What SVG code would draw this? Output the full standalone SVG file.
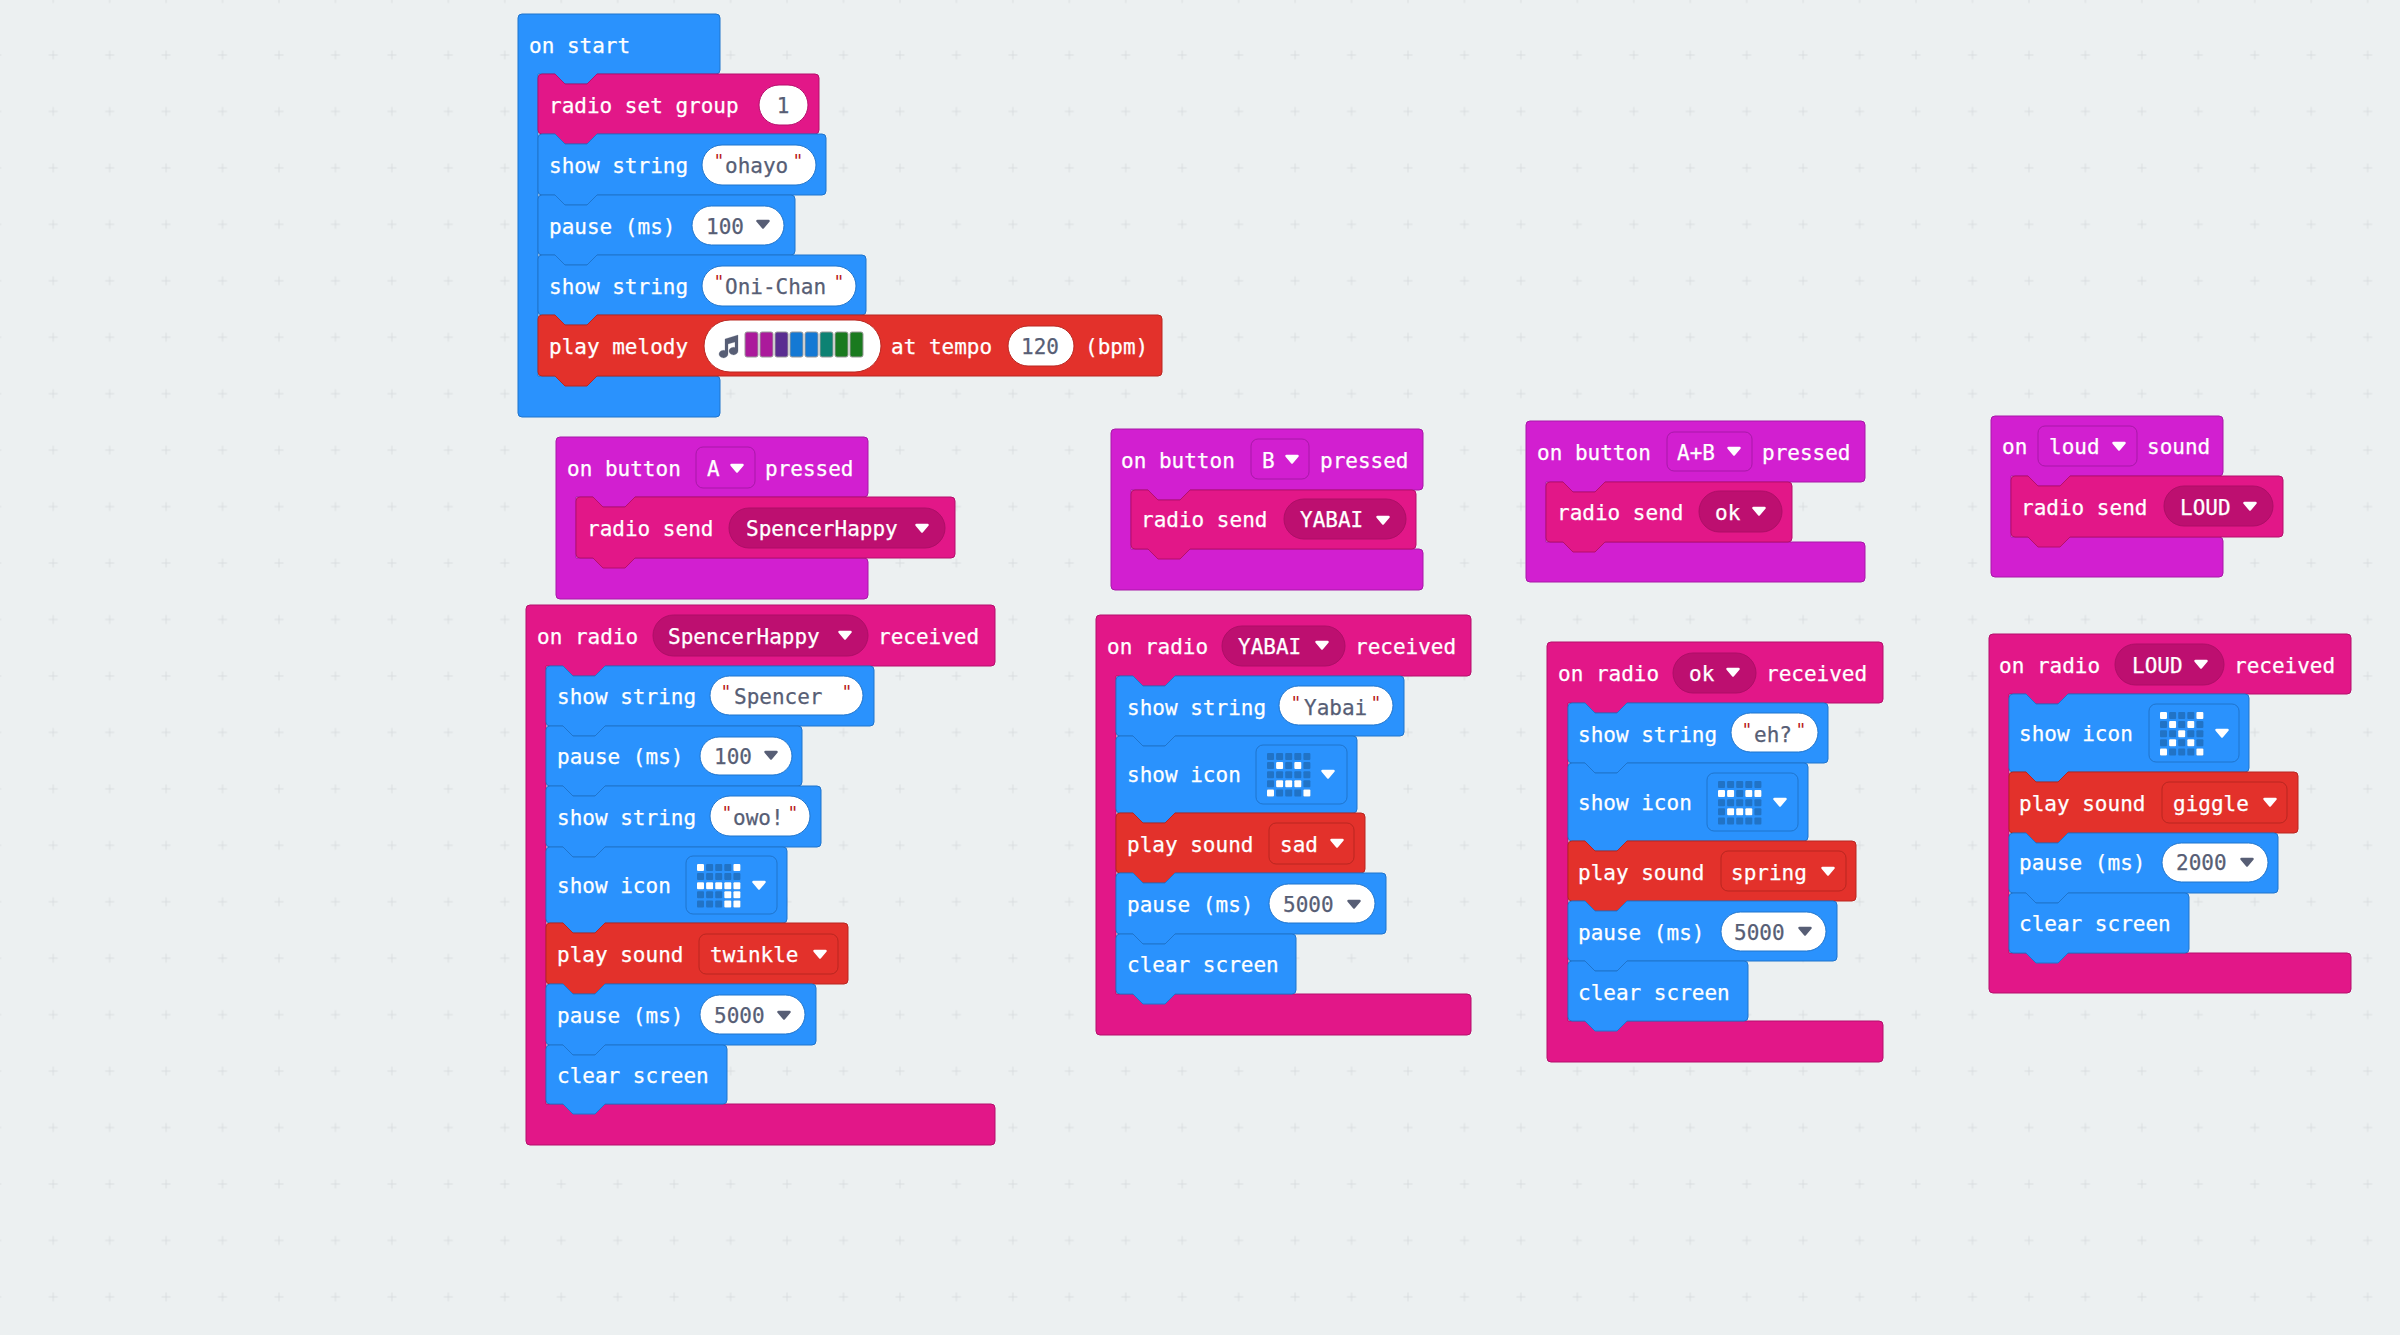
<svg xmlns="http://www.w3.org/2000/svg" xmlns:xlink="http://www.w3.org/1999/xlink" width="2400" height="1335" viewBox="0 0 2400 1335">
<style>
.blue{fill:#2a92fd;stroke:#1f74cc}
.radio{fill:#e21788;stroke:#b50f6c}
.music{fill:#e3312b;stroke:#b92620}
.input{fill:#d21fd0;stroke:#a818a8}
text{font-family:"DejaVu Sans Mono",monospace;font-size:21px}
.t{fill:#fff;stroke:#fff;stroke-width:.25px}
.d{fill:#575e75;stroke:#575e75;stroke-width:.25px}
.q{fill:#b81c1c;font-size:18px;text-anchor:middle}
.c{text-anchor:middle}
.wp{fill:#fff;stroke-width:1}
.pb{stroke:#1f74cc}.pr{stroke:#b50f6c}.pm{stroke:#b92620}
.rp{fill:#bd0f70;stroke:#ad0e67}
.of{fill:none}
.ofi{stroke:#a818a8}.ofm{stroke:#b92620}.ofb{stroke:#1f74cc}
.aw{fill:#fff;stroke:#fff}
.ad{fill:#575e75;stroke:#575e75}
.on{fill:#fff}
.off{fill:#2173c6}
.bar{stroke:#9a9a9a;stroke-width:1}
</style>
<defs>
<pattern id="dots" x="53.2" y="55" width="56.45" height="56.45" patternUnits="userSpaceOnUse" patternContentUnits="userSpaceOnUse">
<path d="M-4.5 0H4.5M0-4.5V4.5M51.95 0H60.95M56.45-4.5V4.5M-4.5 56.45H4.5M0 51.95V60.95M51.95 56.45H60.95M56.45 51.95V60.95" stroke="#d9dde0" stroke-width="1" fill="none"/>
</pattern>
<path id="arrow" d="M-5.5-3H5.5L0 3.5Z" stroke-width="2.5" stroke-linejoin="round"/>
<rect id="cell" width="7" height="7" rx="1"/>
<g id="cells" class="off">
<use href="#cell" x="0" y="0"/><use href="#cell" x="9.1" y="0"/><use href="#cell" x="18.2" y="0"/><use href="#cell" x="27.3" y="0"/><use href="#cell" x="36.4" y="0"/>
<use href="#cell" x="0" y="9.1"/><use href="#cell" x="9.1" y="9.1"/><use href="#cell" x="18.2" y="9.1"/><use href="#cell" x="27.3" y="9.1"/><use href="#cell" x="36.4" y="9.1"/>
<use href="#cell" x="0" y="18.2"/><use href="#cell" x="9.1" y="18.2"/><use href="#cell" x="18.2" y="18.2"/><use href="#cell" x="27.3" y="18.2"/><use href="#cell" x="36.4" y="18.2"/>
<use href="#cell" x="0" y="27.3"/><use href="#cell" x="9.1" y="27.3"/><use href="#cell" x="18.2" y="27.3"/><use href="#cell" x="27.3" y="27.3"/><use href="#cell" x="36.4" y="27.3"/>
<use href="#cell" x="0" y="36.4"/><use href="#cell" x="9.1" y="36.4"/><use href="#cell" x="18.2" y="36.4"/><use href="#cell" x="27.3" y="36.4"/><use href="#cell" x="36.4" y="36.4"/>
</g>
</defs>
<rect width="2400" height="1335" fill="#ecf0f1"/>
<rect width="2400" height="1335" fill="url(#dots)"/>

<g id="on-start">
<path class="blue" d="M522 14H716q4 0 4 4V70q0 4-4 4H597l-10 10h-22l-10-10H538V376H716q4 0 4 4V413q0 4-4 4H522q-4 0-4-4V18q0-4 4-4z"/>
<text class="t" x="529" y="53">on start</text>
</g>
<g id="radio-set-group">
<path class="radio" d="M542 74H555l10 10h22l10-10H815q4 0 4 4V130q0 4-4 4H597l-10 10h-22l-10-10H542q-4 0-4-4V78q0-4 4-4z"/>
<text class="t" x="549" y="113">radio set group</text>
<rect class="wp pr" x="759" y="85" width="49" height="40" rx="20"/>
<text class="d c" x="783" y="113">1</text>
</g>
<g id="show-string-ohayo">
<path class="blue" d="M542 134H555l10 10h22l10-10H822q4 0 4 4V191q0 4-4 4H597l-10 10h-22l-10-10H542q-4 0-4-4V138q0-4 4-4z"/>
<text class="t" x="549" y="173">show string</text>
<rect class="wp pb" x="702" y="145" width="114" height="40" rx="20"/>
<text class="q" x="719" y="167">"</text><text class="d" x="725" y="173">ohayo</text><text class="q" x="798" y="167">"</text>
</g>
<g id="pause-100">
<path class="blue" d="M542 195H555l10 10h22l10-10H791q4 0 4 4V251q0 4-4 4H597l-10 10h-22l-10-10H542q-4 0-4-4V199q0-4 4-4z"/>
<text class="t" x="549" y="234">pause (ms)</text>
<rect class="wp pb" x="692" y="206" width="92" height="39" rx="19.5"/>
<text class="d" x="706" y="234">100</text><use class="ad" href="#arrow" x="763" y="224"/>
</g>
<g id="show-string-oni-chan">
<path class="blue" d="M542 255H555l10 10h22l10-10H862q4 0 4 4V311q0 4-4 4H597l-10 10h-22l-10-10H542q-4 0-4-4V259q0-4 4-4z"/>
<text class="t" x="549" y="294">show string</text>
<rect class="wp pb" x="702" y="266" width="154" height="40" rx="20"/>
<text class="q" x="719" y="288">"</text><text class="d" x="725" y="294">Oni-Chan</text><text class="q" x="839" y="288">"</text>
</g>
<g id="play-melody">
<path class="music" d="M542 315H555l10 10h22l10-10H1158q4 0 4 4V372q0 4-4 4H597l-10 10h-22l-10-10H542q-4 0-4-4V319q0-4 4-4z"/>
<text class="t" x="549" y="354">play melody</text>
<rect class="wp pm" x="704" y="320" width="177" height="52" rx="26"/>
<path class="d" d="M725 339L738 335V351A4.5 3.8 0 1 1 735 347.5V342L728 344V354A4.5 3.8 0 1 1 725 350.5Z"/>
<rect class="bar" x="745" y="332" width="13" height="25" rx="2" fill="#ab1a9b"/>
<rect class="bar" x="760" y="332" width="13" height="25" rx="2" fill="#ab1a9b"/>
<rect class="bar" x="775" y="332" width="13" height="25" rx="2" fill="#5a2d91"/>
<rect class="bar" x="790" y="332" width="13" height="25" rx="2" fill="#1479d4"/>
<rect class="bar" x="805" y="332" width="13" height="25" rx="2" fill="#1479d4"/>
<rect class="bar" x="820" y="332" width="13" height="25" rx="2" fill="#0d8273"/>
<rect class="bar" x="835" y="332" width="13" height="25" rx="2" fill="#1a7a1f"/>
<rect class="bar" x="850" y="332" width="13" height="25" rx="2" fill="#1a7a1f"/>
<text class="t" x="891" y="354">at tempo</text>
<rect class="wp pm" x="1008" y="326" width="66" height="40" rx="20"/>
<text class="d" x="1021" y="354">120</text>
<text class="t" x="1085" y="354">(bpm)</text>
</g>

<g id="on-button-a">
<path class="input" d="M560 437H864q4 0 4 4V493q0 4-4 4H635l-10 10h-22l-10-10H576V558H864q4 0 4 4V595q0 4-4 4H560q-4 0-4-4V441q0-4 4-4z"/>
<text class="t" x="567" y="476">on button</text>
<rect class="of ofi" x="696" y="447" width="59" height="41" rx="7"/>
<text class="t" x="707" y="476">A</text><use class="aw" href="#arrow" x="737" y="468"/>
<text class="t" x="765" y="476">pressed</text>
</g>
<g id="radio-send-spencerhappy">
<path class="radio" d="M580 497H593l10 10h22l10-10H951q4 0 4 4V554q0 4-4 4H635l-10 10h-22l-10-10H580q-4 0-4-4V501q0-4 4-4z"/>
<text class="t" x="587" y="536">radio send</text>
<rect class="rp" x="729" y="508" width="216" height="40" rx="20"/>
<text class="t" x="746" y="536">SpencerHappy</text><use class="aw" href="#arrow" x="922" y="528"/>
</g>

<g id="on-radio-spencerhappy">
<path class="radio" d="M530 605H991q4 0 4 4V662q0 4-4 4H605l-10 10h-22l-10-10H546V1104H991q4 0 4 4V1141q0 4-4 4H530q-4 0-4-4V609q0-4 4-4z"/>
<text class="t" x="537" y="644">on radio</text>
<rect class="rp" x="653" y="615" width="215" height="41" rx="20.5"/>
<text class="t" x="668" y="644">SpencerHappy</text><use class="aw" href="#arrow" x="845" y="635"/>
<text class="t" x="878" y="644">received</text>
</g>
<g id="show-string-spencer">
<path class="blue" d="M550 666H563l10 10h22l10-10H870q4 0 4 4V722q0 4-4 4H605l-10 10h-22l-10-10H550q-4 0-4-4V670q0-4 4-4z"/>
<text class="t" x="557" y="704">show string</text>
<rect class="wp pb" x="710" y="676" width="153" height="39" rx="19.5"/>
<text class="q" x="726" y="698">"</text><text class="d" x="734" y="704">Spencer</text><text class="q" x="847" y="698">"</text>
</g>
<g id="pause-100-b">
<path class="blue" d="M550 726H563l10 10h22l10-10H798q4 0 4 4V782q0 4-4 4H605l-10 10h-22l-10-10H550q-4 0-4-4V730q0-4 4-4z"/>
<text class="t" x="557" y="764">pause (ms)</text>
<rect class="wp pb" x="700" y="737" width="92" height="38" rx="19"/>
<text class="d" x="714" y="764">100</text><use class="ad" href="#arrow" x="771" y="755"/>
</g>
<g id="show-string-owo">
<path class="blue" d="M550 786H563l10 10h22l10-10H817q4 0 4 4V843q0 4-4 4H605l-10 10h-22l-10-10H550q-4 0-4-4V790q0-4 4-4z"/>
<text class="t" x="557" y="825">show string</text>
<rect class="wp pb" x="710" y="796" width="100" height="40" rx="20"/>
<text class="q" x="727" y="819">"</text><text class="d" x="733" y="825">owo!</text><text class="q" x="793" y="819">"</text>
</g>
<g id="show-icon-a">
<path class="blue" d="M550 847H563l10 10h22l10-10H783q4 0 4 4V919q0 4-4 4H605l-10 10h-22l-10-10H550q-4 0-4-4V851q0-4 4-4z"/>
<text class="t" x="557" y="893">show icon</text>
<rect class="of ofb" x="686" y="856" width="91" height="58" rx="7"/>
<g transform="translate(697,864)"><use href="#cells"/><g class="on">
<use href="#cell" x="0" y="0"/><use href="#cell" x="36.4" y="0"/>
<use href="#cell" x="0" y="18.2"/><use href="#cell" x="9.1" y="18.2"/><use href="#cell" x="18.2" y="18.2"/><use href="#cell" x="27.3" y="18.2"/><use href="#cell" x="36.4" y="18.2"/>
<use href="#cell" x="27.3" y="27.3"/><use href="#cell" x="36.4" y="27.3"/>
<use href="#cell" x="27.3" y="36.4"/><use href="#cell" x="36.4" y="36.4"/></g></g>
<use class="aw" href="#arrow" x="759" y="885"/>
</g>
<g id="play-sound-twinkle">
<path class="music" d="M550 923H563l10 10h22l10-10H844q4 0 4 4V980q0 4-4 4H605l-10 10h-22l-10-10H550q-4 0-4-4V927q0-4 4-4z"/>
<text class="t" x="557" y="962">play sound</text>
<rect class="of ofm" x="699" y="934" width="139" height="40" rx="7"/>
<text class="t" x="710" y="962">twinkle</text><use class="aw" href="#arrow" x="820" y="954"/>
</g>
<g id="pause-5000-a">
<path class="blue" d="M550 984H563l10 10h22l10-10H812q4 0 4 4V1041q0 4-4 4H605l-10 10h-22l-10-10H550q-4 0-4-4V988q0-4 4-4z"/>
<text class="t" x="557" y="1023">pause (ms)</text>
<rect class="wp pb" x="700" y="995" width="105" height="39" rx="19.5"/>
<text class="d" x="714" y="1023">5000</text><use class="ad" href="#arrow" x="784" y="1015"/>
</g>
<g id="clear-screen-a">
<path class="blue" d="M550 1045H563l10 10h22l10-10H723q4 0 4 4V1100q0 4-4 4H605l-10 10h-22l-10-10H550q-4 0-4-4V1049q0-4 4-4z"/>
<text class="t" x="557" y="1083">clear screen</text>
</g>

<g id="on-button-b">
<path class="input" d="M1115 429H1419q4 0 4 4V486q0 4-4 4H1190l-10 10h-22l-10-10H1131V549H1419q4 0 4 4V586q0 4-4 4H1115q-4 0-4-4V433q0-4 4-4z"/>
<text class="t" x="1121" y="468">on button</text>
<rect class="of ofi" x="1251" y="439" width="58" height="40" rx="7"/>
<text class="t" x="1262" y="468">B</text><use class="aw" href="#arrow" x="1292" y="459"/>
<text class="t" x="1320" y="468">pressed</text>
</g>
<g id="radio-send-yabai">
<path class="radio" d="M1135 490H1148l10 10h22l10-10H1412q4 0 4 4V545q0 4-4 4H1190l-10 10h-22l-10-10H1135q-4 0-4-4V494q0-4 4-4z"/>
<text class="t" x="1141" y="527">radio send</text>
<rect class="rp" x="1284" y="499" width="122" height="40" rx="20"/>
<text class="t" x="1300" y="527">YABAI</text><use class="aw" href="#arrow" x="1383" y="520"/>
</g>

<g id="on-radio-yabai">
<path class="radio" d="M1100 615H1467q4 0 4 4V672q0 4-4 4H1175l-10 10h-22l-10-10H1116V994H1467q4 0 4 4V1031q0 4-4 4H1100q-4 0-4-4V619q0-4 4-4z"/>
<text class="t" x="1107" y="654">on radio</text>
<rect class="rp" x="1222" y="626" width="123" height="40" rx="20"/>
<text class="t" x="1238" y="654">YABAI</text><use class="aw" href="#arrow" x="1322" y="645"/>
<text class="t" x="1355" y="654">received</text>
</g>
<g id="show-string-yabai">
<path class="blue" d="M1120 676H1133l10 10h22l10-10H1400q4 0 4 4V732q0 4-4 4H1175l-10 10h-22l-10-10H1120q-4 0-4-4V680q0-4 4-4z"/>
<text class="t" x="1127" y="715">show string</text>
<rect class="wp pb" x="1279" y="686" width="114" height="39" rx="19.5"/>
<text class="q" x="1296" y="709">"</text><text class="d" x="1304" y="715">Yabai</text><text class="q" x="1376" y="709">"</text>
</g>
<g id="show-icon-b">
<path class="blue" d="M1120 736H1133l10 10h22l10-10H1353q4 0 4 4V809q0 4-4 4H1175l-10 10h-22l-10-10H1120q-4 0-4-4V740q0-4 4-4z"/>
<text class="t" x="1127" y="782">show icon</text>
<rect class="of ofb" x="1256" y="745" width="91" height="59" rx="7"/>
<g transform="translate(1267,753)"><use href="#cells"/><g class="on">
<use href="#cell" x="9.1" y="9.1"/><use href="#cell" x="27.3" y="9.1"/>
<use href="#cell" x="9.1" y="27.3"/><use href="#cell" x="18.2" y="27.3"/><use href="#cell" x="27.3" y="27.3"/>
<use href="#cell" x="0" y="36.4"/><use href="#cell" x="36.4" y="36.4"/></g></g>
<use class="aw" href="#arrow" x="1328" y="774"/>
</g>
<g id="play-sound-sad">
<path class="music" d="M1120 813H1133l10 10h22l10-10H1361q4 0 4 4V869q0 4-4 4H1175l-10 10h-22l-10-10H1120q-4 0-4-4V817q0-4 4-4z"/>
<text class="t" x="1127" y="852">play sound</text>
<rect class="of ofm" x="1269" y="823" width="85" height="41" rx="7"/>
<text class="t" x="1280" y="852">sad</text><use class="aw" href="#arrow" x="1337" y="843"/>
</g>
<g id="pause-5000-b">
<path class="blue" d="M1120 873H1133l10 10h22l10-10H1382q4 0 4 4V930q0 4-4 4H1175l-10 10h-22l-10-10H1120q-4 0-4-4V877q0-4 4-4z"/>
<text class="t" x="1127" y="912">pause (ms)</text>
<rect class="wp pb" x="1269" y="884" width="106" height="39" rx="19.5"/>
<text class="d" x="1283" y="912">5000</text><use class="ad" href="#arrow" x="1354" y="904"/>
</g>
<g id="clear-screen-b">
<path class="blue" d="M1120 934H1133l10 10h22l10-10H1292q4 0 4 4V990q0 4-4 4H1175l-10 10h-22l-10-10H1120q-4 0-4-4V938q0-4 4-4z"/>
<text class="t" x="1127" y="972">clear screen</text>
</g>

<g id="on-button-ab">
<path class="input" d="M1530 421H1861q4 0 4 4V478q0 4-4 4H1605l-10 10h-22l-10-10H1546V542H1861q4 0 4 4V578q0 4-4 4H1530q-4 0-4-4V425q0-4 4-4z"/>
<text class="t" x="1537" y="460">on button</text>
<rect class="of ofi" x="1667" y="432" width="85" height="39" rx="7"/>
<text class="t" x="1677" y="460">A+B</text><use class="aw" href="#arrow" x="1734" y="451"/>
<text class="t" x="1762" y="460">pressed</text>
</g>
<g id="radio-send-ok">
<path class="radio" d="M1550 482H1563l10 10h22l10-10H1788q4 0 4 4V538q0 4-4 4H1605l-10 10h-22l-10-10H1550q-4 0-4-4V486q0-4 4-4z"/>
<text class="t" x="1557" y="520">radio send</text>
<rect class="rp" x="1699" y="491" width="83" height="41" rx="20.5"/>
<text class="t" x="1715" y="520">ok</text><use class="aw" href="#arrow" x="1759" y="511"/>
</g>

<g id="on-radio-ok">
<path class="radio" d="M1551 642H1879q4 0 4 4V699q0 4-4 4H1627l-10 10h-22l-10-10H1568V1021H1879q4 0 4 4V1058q0 4-4 4H1551q-4 0-4-4V646q0-4 4-4z"/>
<text class="t" x="1558" y="681">on radio</text>
<rect class="rp" x="1673" y="653" width="83" height="40" rx="20"/>
<text class="t" x="1689" y="681">ok</text><use class="aw" href="#arrow" x="1733" y="672"/>
<text class="t" x="1766" y="681">received</text>
</g>
<g id="show-string-eh">
<path class="blue" d="M1572 703H1585l10 10h22l10-10H1824q4 0 4 4V759q0 4-4 4H1627l-10 10h-22l-10-10H1572q-4 0-4-4V707q0-4 4-4z"/>
<text class="t" x="1578" y="742">show string</text>
<rect class="wp pb" x="1731" y="713" width="87" height="39" rx="19.5"/>
<text class="q" x="1747" y="736">"</text><text class="d" x="1754" y="742">eh?</text><text class="q" x="1801" y="736">"</text>
</g>
<g id="show-icon-c">
<path class="blue" d="M1572 763H1585l10 10h22l10-10H1804q4 0 4 4V837q0 4-4 4H1627l-10 10h-22l-10-10H1572q-4 0-4-4V767q0-4 4-4z"/>
<text class="t" x="1578" y="810">show icon</text>
<rect class="of ofb" x="1707" y="773" width="91" height="58" rx="7"/>
<g transform="translate(1718,781)"><use href="#cells"/><g class="on">
<use href="#cell" x="0" y="9.1"/><use href="#cell" x="9.1" y="9.1"/><use href="#cell" x="27.3" y="9.1"/><use href="#cell" x="36.4" y="9.1"/>
<use href="#cell" x="9.1" y="27.3"/><use href="#cell" x="18.2" y="27.3"/><use href="#cell" x="27.3" y="27.3"/></g></g>
<use class="aw" href="#arrow" x="1780" y="802"/>
</g>
<g id="play-sound-spring">
<path class="music" d="M1572 841H1585l10 10h22l10-10H1852q4 0 4 4V897q0 4-4 4H1627l-10 10h-22l-10-10H1572q-4 0-4-4V845q0-4 4-4z"/>
<text class="t" x="1578" y="880">play sound</text>
<rect class="of ofm" x="1721" y="851" width="125" height="40" rx="7"/>
<text class="t" x="1731" y="880">spring</text><use class="aw" href="#arrow" x="1828" y="871"/>
</g>
<g id="pause-5000-c">
<path class="blue" d="M1572 901H1585l10 10h22l10-10H1833q4 0 4 4V957q0 4-4 4H1627l-10 10h-22l-10-10H1572q-4 0-4-4V905q0-4 4-4z"/>
<text class="t" x="1578" y="940">pause (ms)</text>
<rect class="wp pb" x="1721" y="912" width="105" height="39" rx="19.5"/>
<text class="d" x="1734" y="940">5000</text><use class="ad" href="#arrow" x="1805" y="931"/>
</g>
<g id="clear-screen-c">
<path class="blue" d="M1572 961H1585l10 10h22l10-10H1744q4 0 4 4V1017q0 4-4 4H1627l-10 10h-22l-10-10H1572q-4 0-4-4V965q0-4 4-4z"/>
<text class="t" x="1578" y="1000">clear screen</text>
</g>

<g id="on-loud-sound">
<path class="input" d="M1995 416H2219q4 0 4 4V472q0 4-4 4H2070l-10 10h-22l-10-10H2011V537H2219q4 0 4 4V573q0 4-4 4H1995q-4 0-4-4V420q0-4 4-4z"/>
<text class="t" x="2002" y="454">on</text>
<rect class="of ofi" x="2038" y="426" width="99" height="40" rx="7"/>
<text class="t" x="2049" y="454">loud</text><use class="aw" href="#arrow" x="2119" y="446"/>
<text class="t" x="2147" y="454">sound</text>
</g>
<g id="radio-send-loud">
<path class="radio" d="M2015 476H2028l10 10h22l10-10H2279q4 0 4 4V533q0 4-4 4H2070l-10 10h-22l-10-10H2015q-4 0-4-4V480q0-4 4-4z"/>
<text class="t" x="2021" y="515">radio send</text>
<rect class="rp" x="2164" y="486" width="109" height="40" rx="20"/>
<text class="t" x="2180" y="515">LOUD</text><use class="aw" href="#arrow" x="2250" y="506"/>
</g>

<g id="on-radio-loud">
<path class="radio" d="M1993 634H2347q4 0 4 4V690q0 4-4 4H2068l-10 10h-22l-10-10H2009V953H2347q4 0 4 4V989q0 4-4 4H1993q-4 0-4-4V638q0-4 4-4z"/>
<text class="t" x="1999" y="673">on radio</text>
<rect class="rp" x="2115" y="644" width="109" height="41" rx="20.5"/>
<text class="t" x="2132" y="673">LOUD</text><use class="aw" href="#arrow" x="2201" y="664"/>
<text class="t" x="2234" y="673">received</text>
</g>
<g id="show-icon-d">
<path class="blue" d="M2013 694H2026l10 10h22l10-10H2245q4 0 4 4V768q0 4-4 4H2068l-10 10h-22l-10-10H2013q-4 0-4-4V698q0-4 4-4z"/>
<text class="t" x="2019" y="741">show icon</text>
<rect class="of ofb" x="2149" y="704" width="90" height="58" rx="7"/>
<g transform="translate(2160,712)"><use href="#cells"/><g class="on">
<use href="#cell" x="0" y="0"/><use href="#cell" x="36.4" y="0"/>
<use href="#cell" x="9.1" y="9.1"/><use href="#cell" x="27.3" y="9.1"/>
<use href="#cell" x="18.2" y="18.2"/>
<use href="#cell" x="9.1" y="27.3"/><use href="#cell" x="27.3" y="27.3"/>
<use href="#cell" x="0" y="36.4"/><use href="#cell" x="36.4" y="36.4"/></g></g>
<use class="aw" href="#arrow" x="2222" y="733"/>
</g>
<g id="play-sound-giggle">
<path class="music" d="M2013 772H2026l10 10h22l10-10H2294q4 0 4 4V829q0 4-4 4H2068l-10 10h-22l-10-10H2013q-4 0-4-4V776q0-4 4-4z"/>
<text class="t" x="2019" y="811">play sound</text>
<rect class="of ofm" x="2162" y="782" width="125" height="41" rx="7"/>
<text class="t" x="2173" y="811">giggle</text><use class="aw" href="#arrow" x="2270" y="802"/>
</g>
<g id="pause-2000">
<path class="blue" d="M2013 833H2026l10 10h22l10-10H2274q4 0 4 4V889q0 4-4 4H2068l-10 10h-22l-10-10H2013q-4 0-4-4V837q0-4 4-4z"/>
<text class="t" x="2019" y="870">pause (ms)</text>
<rect class="wp pb" x="2162" y="843" width="106" height="39" rx="19.5"/>
<text class="d" x="2176" y="870">2000</text><use class="ad" href="#arrow" x="2247" y="862"/>
</g>
<g id="clear-screen-d">
<path class="blue" d="M2013 893H2026l10 10h22l10-10H2185q4 0 4 4V949q0 4-4 4H2068l-10 10h-22l-10-10H2013q-4 0-4-4V897q0-4 4-4z"/>
<text class="t" x="2019" y="931">clear screen</text>
</g>
</svg>
